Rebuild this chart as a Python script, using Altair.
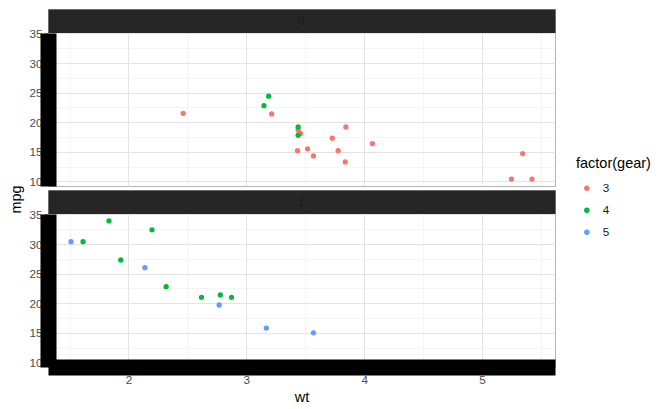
import altair as alt
import pandas as pd

# mtcars: am = 0 (automatic)
am0_wt = [3.215, 3.44, 3.46, 3.57, 3.19, 3.15, 3.44, 3.44, 4.07, 3.73, 3.78,
          5.25, 5.424, 5.345, 2.465, 3.52, 3.435, 3.84, 3.845]
am0_mpg = [21.4, 18.7, 18.1, 14.3, 24.4, 22.8, 19.2, 17.8, 16.4, 17.3, 15.2,
           10.4, 10.4, 14.7, 21.5, 15.5, 15.2, 13.3, 19.2]
am0_gear = ["3", "3", "3", "3", "4", "4", "4", "4", "3", "3", "3",
            "3", "3", "3", "3", "3", "3", "3", "3"]
# am = 1 (manual)
am1_wt = [2.62, 2.875, 2.32, 2.2, 1.615, 1.835, 1.935, 2.14, 1.513, 3.17, 2.77, 3.57, 2.78]
am1_mpg = [21.0, 21.0, 22.8, 32.4, 30.4, 33.9, 27.3, 26.0, 30.4, 15.8, 19.7, 15.0, 21.4]
am1_gear = ["4", "4", "4", "4", "4", "4", "4", "5", "5", "5", "5", "5", "4"]

facet_labels = ["0", "1"]
gear_levels = ["3", "4", "5"]
gear_colors = ["#F8766D", "#00BA38", "#619CFF"]

x_major = [2, 3, 4, 5]
x_minor = [1.5, 2.5, 3.5, 4.5, 5.5]
y_major = [10, 15, 20, 25, 30, 35]
y_minor = [12.5, 17.5, 22.5, 27.5, 32.5]
x_domain = [1.3175, 5.6195]
y_domain = [9.225, 35.075]

FONT = "Liberation Sans"
W = 507
H = 153

df0 = pd.DataFrame({"wt": am0_wt, "mpg": am0_mpg, "gear": am0_gear})
df1 = pd.DataFrame({"wt": am1_wt, "mpg": am1_mpg, "gear": am1_gear})

color = alt.Color(
    "gear:N",
    title="factor(gear)",
    scale=alt.Scale(domain=gear_levels, range=gear_colors),
    legend=alt.Legend(
        orient="none", legendX=528, legendY=148,
        symbolType="circle", symbolSize=30, symbolFillColor=None,
        titleFontSize=14.5, titleFontWeight="normal", titleColor="#000000", titleFont=FONT,
        labelFontSize=11.7, labelColor="#1a1a1a", labelFont=FONT,
        rowPadding=9, titlePadding=11, labelOffset=10, symbolOffset=5,
    ),
)

xscale = alt.Scale(domain=x_domain, nice=False, zero=False)
yscale = alt.Scale(domain=y_domain, nice=False, zero=False)


def grid_axis(vals, orient, col, w):
    return alt.Axis(values=vals, orient=orient, title=None, domain=False, labels=False,
                    ticks=False, grid=True, gridColor=col, gridWidth=w, zindex=0)


def y_axis(with_title):
    kw = dict(
        values=y_major, orient="left", format="d", domainColor="#000000", domainWidth=16,
        tickColor="#9a9a9a", tickSize=4, tickWidth=1, labelColor="#4d4d4d",
        labelFontSize=11.7, labelFont=FONT, labelPadding=2, labelOverlap=False,
        grid=False, zindex=1,
    )
    if with_title:
        return alt.Axis(title="mpg", titleFontSize=14.5, titleFontWeight="normal",
                        titleColor="#000000", titleFont=FONT, titleY=-15,
                        titlePadding=5, **kw)
    return alt.Axis(title=None, **kw)


def x_axis(bottom):
    if bottom:
        return alt.Axis(
            values=x_major, orient="bottom", format="d", title="wt",
            domainColor="#000000", domainWidth=16,
            tickColor="#9a9a9a", tickSize=4, tickWidth=1, labelColor="#4d4d4d",
            labelFontSize=11.7, labelFont=FONT, labelPadding=3, labelOverlap=False,
            grid=False, zindex=1,
            titleFontSize=14.5, titleFontWeight="normal", titleColor="#000000",
            titleFont=FONT, titlePadding=5,
        )
    return None


def panel(df, bottom, y_title):
    minor = alt.Chart(df).mark_circle(opacity=0).encode(
        x=alt.X("wt:Q", scale=xscale, axis=grid_axis(x_minor, "bottom", "#eeeeee", 0.6)),
        y=alt.Y("mpg:Q", scale=yscale, axis=grid_axis(y_minor, "left", "#eeeeee", 0.6)),
    )
    major = alt.Chart(df).mark_circle(opacity=0).encode(
        x=alt.X("wt:Q", scale=xscale, axis=grid_axis(x_major, "bottom", "#e3e3e3", 1)),
        y=alt.Y("mpg:Q", scale=yscale, axis=grid_axis(y_major, "left", "#e3e3e3", 1)),
    )
    xa = x_axis(bottom)
    xenc = alt.X("wt:Q", scale=xscale, axis=xa) if xa is not None else alt.X("wt:Q", scale=xscale, axis=None)
    pts = alt.Chart(df).mark_circle(size=28, opacity=1).encode(
        x=xenc,
        y=alt.Y("mpg:Q", scale=yscale, axis=y_axis(y_title)),
        color=color,
    )
    return alt.layer(pts, minor, major).resolve_axis(x="independent", y="independent").properties(
        width=W, height=H,
        view=alt.ViewBackground(fill="#ffffff", stroke="#b3b3b3", strokeWidth=1),
    )


def strip(label):
    return alt.Chart(pd.DataFrame({"am": [label]})).mark_text(
        font=FONT, fontSize=11.7, color="#1a1a1a", baseline="middle"
    ).encode(text="am:N").properties(
        width=W, height=24,
        view=alt.ViewBackground(fill="#262626", stroke="#6b6b6b", strokeWidth=1),
    )


top = alt.vconcat(strip(facet_labels[0]), panel(df0, False, False), spacing=0, bounds="flush")
bot = alt.vconcat(strip(facet_labels[1]), panel(df1, True, True), spacing=0, bounds="flush")

chart = alt.vconcat(top, bot, spacing=-5).properties(
    padding={"left": 0, "top": 0, "right": 5, "bottom": 0}
).configure(font=FONT).configure_view(stroke="#b3b3b3")

chart.save("out.html", embed_options={"renderer": "svg", "actions": False})
